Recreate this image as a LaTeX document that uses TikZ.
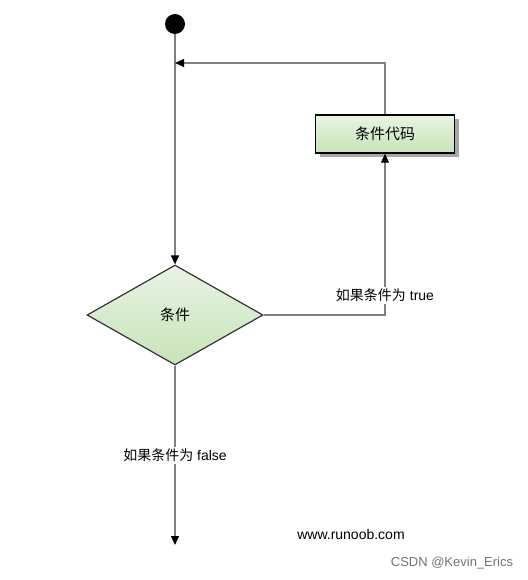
\documentclass[tikz,border=0pt]{standalone}
\usepackage{fontspec}
\setmainfont{Liberation Sans}
\newfontfamily\cjk{Noto Sans CJK SC}
\usepackage{tikz}
\usetikzlibrary{shapes.geometric,arrows.meta,shadows}
\definecolor{runoob light}{rgb}{0.9098, 0.9569, 0.8941}
\definecolor{runoob green}{rgb}{0.7804, 0.8902, 0.7216}
\definecolor{runoob gray}{rgb}{0.5020, 0.5020, 0.5020}

\begin{document}
\begin{tikzpicture}[x=1pt, y=-1pt,
		flow/.style={draw=runoob gray, line width=1.2pt, -{Triangle[length=9pt, width=8pt, color=black]}},
		cond label/.style={fill=white, inner sep=2pt, font=\fontsize{14}{17}\selectfont}]
			\useasboundingbox (0, 0) rectangle (527, 580);
			% shapes
			\node[circle, fill=black, inner sep=0, minimum size=20pt] (start) at (175, 24) {};
			\node[diamond, draw=black!80, line width=1.2pt, top color=runoob light, bottom color=runoob green,
				inner sep=0, aspect=1.76, minimum width=176pt, minimum height=100pt,
				font=\fontsize{15}{18}\selectfont] (cond) at (175, 315) {\cjk 条件};
			\node[draw=black, line width=1.5pt, top color=runoob light, bottom color=runoob green,
				minimum width=139pt, minimum height=38pt, font=\fontsize{15}{18}\selectfont,
				drop shadow={fill=black!35, opacity=1, shadow xshift=4pt, shadow yshift=-4pt}] (body) at (385, 134) {\cjk 条件代码};
			\coordinate (back) at (175, 63);
			\coordinate (end) at (175, 545);
			% connectors
			\draw[flow] (start) -- (cond.north);
			\draw[flow] (body.north) |- (back);
			\draw[flow] (cond.east) -| node[cond label, pos=0.56] {{\cjk 如果条件为} true} (body.south);
			\draw[flow] (cond.south) -- node[cond label] {{\cjk 如果条件为} false} (end);
			% texts
			\node[font=\fontsize{14}{17}\selectfont] (site) at (351, 534) {www.runoob.com};
			\node[text=black!55, font=\fontsize{13}{16}\selectfont] (mark) at (452, 563) {CSDN @Kevin\_Erics};
		\end{tikzpicture}
\end{document}
